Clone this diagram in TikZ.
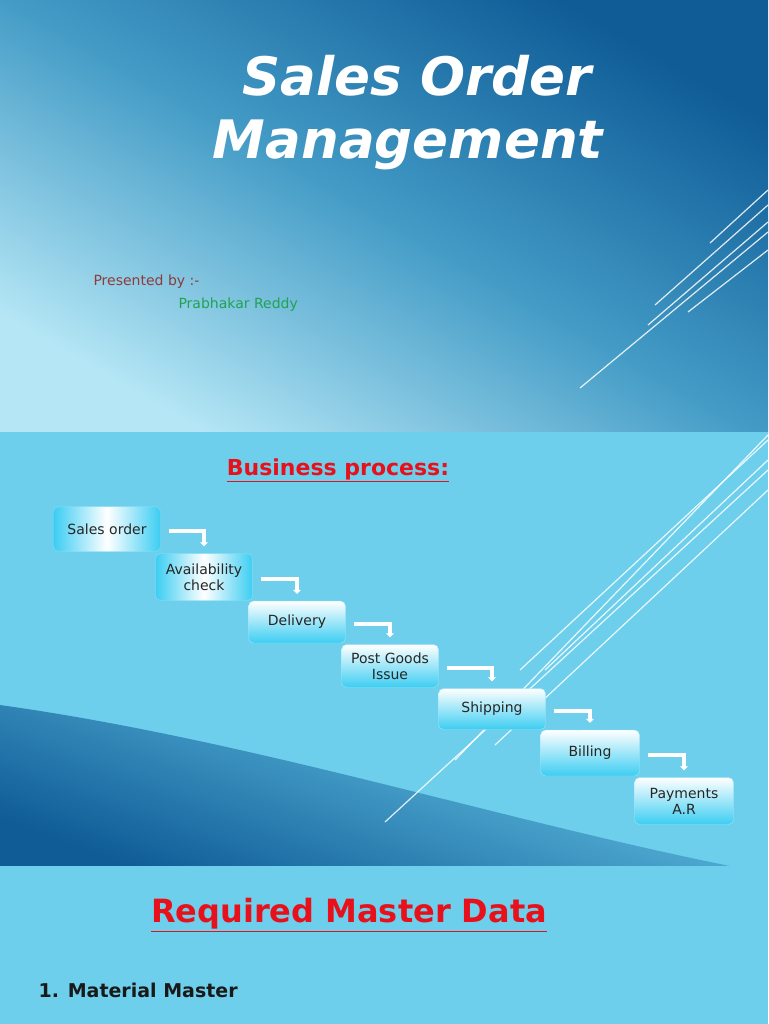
\documentclass[tikz,border=0pt]{standalone}
\usepackage{fontspec}
\setmainfont{DejaVu Sans}
\usetikzlibrary{positioning,calc,arrows.meta}
\definecolor{skyblue}{HTML}{6DCFEC}
\definecolor{deepblue}{HTML}{0F5C97}
\definecolor{paleblue}{HTML}{B4E6F5}
\definecolor{boxcyan}{HTML}{3CCDF2}
\definecolor{presred}{HTML}{8E3B3B}
\definecolor{presgreen}{HTML}{1EA353}
\definecolor{headred}{HTML}{E8101A}
\tikzset{hstep/.style={draw=boxcyan!60!white,rounded corners=5pt,minimum width=107,minimum height=45,align=center,
      font=\fontsize{14}{16}\selectfont,text=black!85,left color=boxcyan,right color=boxcyan,middle color=white},
    vstep/.style={draw=boxcyan!50!white,rounded corners=5pt,minimum width=97,minimum height=44,align=center,
      font=\fontsize{14}{16}\selectfont,text=black!85,top color=white,bottom color=boxcyan},
    elbow/.style={draw=white,line width=3.5pt,-{Triangle[length=4pt,width=8pt]}},
    deco/.style={draw=white,line width=1.2pt,opacity=0.85}}
\begin{document}
\begin{tikzpicture}[x=1pt,y=-1pt]
\useasboundingbox (0,0) rectangle (768,1024);

% first slide
\shade[top color=deepblue,bottom color=paleblue,middle color=skyblue!55!deepblue,shading angle=-30] (0,0) rectangle (768,432);
\draw[deco] (580,388) -- (768,232);
\draw[deco] (655,305) -- (768,205);
\draw[deco] (648,325) -- (768,222);
\draw[deco] (688,312) -- (768,250);
\draw[deco] (710,243) -- (768,190);
\node (title) [text=white,align=center,font=\fontsize{53}{63}\selectfont\bfseries\itshape] at (408,113) {\ Sales Order\\Management};
\node (pres) [anchor=west,text=presred,font=\fontsize{14}{16}\selectfont] at (90,282) {Presented by :-};
\node (name) [anchor=west,text=presgreen,font=\fontsize{14}{16}\selectfont] at (175,305) {Prabhakar Reddy};

% second slide
\fill[skyblue] (0,432) rectangle (768,866);
\shade[top color=skyblue,middle color=skyblue,bottom color=deepblue,shading angle=-20] (0,705) .. controls (250,740) and (500,820) .. (730,866) -- (0,866) -- cycle;
\draw[deco] (385,822) -- (768,470);
\draw[deco] (455,760) -- (768,435);
\draw[deco] (495,745) -- (768,490);
\draw[deco] (520,670) -- (768,440);
\draw[deco] (545,670) -- (768,460);
\node (bp) [text=headred,font=\fontsize{22}{26}\selectfont\bfseries] at (338,470) {\underline{Business process:}};

\node (so) [hstep] at (107,529) {Sales order};
\node (ac) [hstep,minimum width=97,minimum height=47] at (204,577) {Availability\\check};
\node (dl) [vstep,minimum height=42] at (297,622) {Delivery};
\node (pg) [vstep,minimum height=43] at (390,666) {Post Goods\\Issue};
\node (sh) [vstep,minimum width=107,minimum height=41] at (492,709) {Shipping};
\node (bl) [vstep,minimum width=99,minimum height=46] at (590,753) {Billing};
\node (pa) [vstep,minimum width=99,minimum height=47] at (684,801) {Payments\\A.R};

\foreach \a/\b in {so/ac,ac/dl,dl/pg,pg/sh,sh/bl,bl/pa}
  \draw[elbow] ([xshift=8,yshift=-2]\a.east) -| ([yshift=7]\b.north);

% third slide
\fill[skyblue] (0,866) rectangle (768,1024);
\node (md) [text=headred,font=\fontsize{32}{38}\selectfont\bfseries] at (349,915) {\underline{Required Master Data}};
\node (mm) [anchor=west,text=black!90,font=\fontsize{19}{23}\selectfont\bfseries] at (35,990) {1. Material Master};
\end{tikzpicture}
\end{document}
